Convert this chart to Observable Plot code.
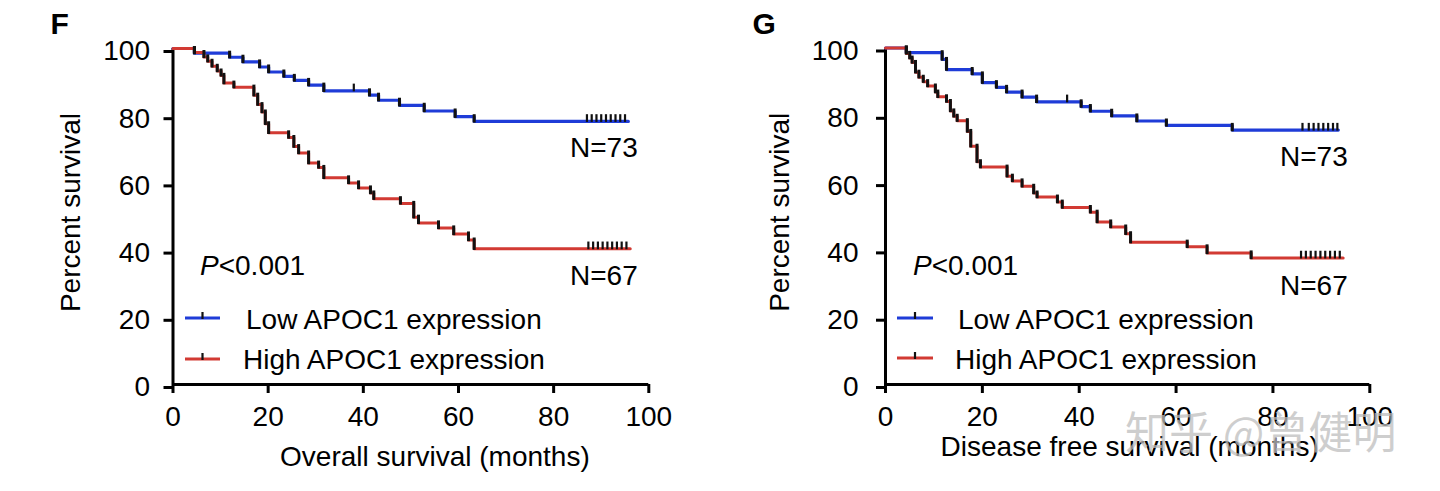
<!DOCTYPE html>
<html>
<head>
<meta charset="utf-8">
<script src="https://cdn.jsdelivr.net/npm/d3@7"></script>
<script src="https://cdn.jsdelivr.net/npm/@observablehq/plot@0.6"></script>
<style>
  html, body { margin: 0; padding: 0; background: #fff; }
  #wrap { position: relative; width: 1440px; height: 491px; overflow: hidden; }
  .panel { position: absolute; top: 0; }
  .mark { position: absolute; font-family: "Noto Sans CJK SC", sans-serif; font-size: 44px;
          color: rgba(190,190,190,0.75); white-space: nowrap; pointer-events: none; }
</style>
</head>
<body>
<div id="wrap"></div>
<script>
// ---- Overall survival (panel F) ----
const osLowTime  = [0, 4.5, 11.9, 14.7, 18.2, 20.1, 23.3, 25.5, 28.5, 31.7, 41.3, 43.2, 47.6, 52.8, 59.3, 63.3];
const osLowSurv  = [100, 98.6, 97.4, 96.0, 94.5, 93.0, 91.7, 90.5, 89.1, 87.4, 86.1, 84.6, 83.1, 81.4, 79.7, 78.3];
const osLowCens  = [38.0, 87.0, 88.0, 89.0, 90.0, 91.0, 92.0, 93.0, 94.0, 95.0];
const osLowEnd   = 95.7;

const osHighTime = [0, 4.5, 6.5, 7.3, 8.2, 9.3, 10.1, 10.7, 12.8, 17.0, 17.8, 18.7, 19.4, 20.1, 24.3, 25.4, 26.4, 28.5, 30.6, 31.7, 36.9, 39.0, 41.5, 42.2, 47.8, 50.6, 51.6, 55.8, 59.0, 62.1, 63.3];
const osHighSurv = [100, 98.8, 97.5, 96.2, 94.7, 93.3, 92.0, 89.7, 88.5, 86.1, 83.3, 81.1, 77.6, 74.9, 73.5, 70.8, 68.9, 65.9, 64.6, 61.5, 60.0, 58.5, 57.0, 55.3, 53.9, 49.8, 48.1, 46.6, 44.8, 43.0, 40.4];
const osHighCens = [87.3, 88.3, 89.3, 90.3, 91.3, 92.3, 93.3, 94.3, 95.3];
const osHighEnd  = 96.1;

// ---- Disease free survival (panel G) ----
const dfsLowTime  = [0, 4.3, 11.7, 12.6, 17.9, 20.0, 22.9, 25.0, 28.2, 31.2, 40.4, 42.3, 46.7, 51.9, 58.0, 71.6];
const dfsLowSurv  = [100, 98.6, 96.6, 93.6, 92.3, 89.7, 88.3, 86.9, 85.4, 84.0, 82.6, 81.2, 79.8, 78.3, 77.0, 75.6];
const dfsLowCens  = [37.5, 86.1, 87.4, 88.4, 89.4, 90.4, 91.4, 92.4, 93.3];
const dfsLowEnd   = 93.5;

const dfsHighTime = [0, 4.3, 5.0, 5.5, 6.2, 6.9, 7.8, 8.7, 10.3, 10.8, 12.6, 13.4, 14.1, 14.8, 16.9, 17.6, 18.9, 19.6, 25.1, 26.2, 28.2, 30.6, 31.3, 35.5, 36.5, 42.3, 43.7, 46.5, 49.6, 50.6, 62.3, 66.4, 75.5];
const dfsHighSurv = [100, 98.4, 97.0, 95.7, 92.8, 91.3, 90.0, 88.7, 86.9, 85.5, 84.1, 81.3, 79.7, 78.4, 75.2, 70.8, 66.2, 64.6, 61.9, 60.5, 58.9, 56.9, 55.7, 54.2, 52.6, 51.2, 48.3, 46.8, 44.8, 42.3, 40.9, 39.1, 37.6];
const dfsHighCens = [85.8, 86.8, 87.8, 88.8, 89.8, 90.8, 91.8, 92.8, 93.8];
const dfsHighEnd  = 94.5;

// ---- shared labels ----
const xTicks = [0, 20, 40, 60, 80, 100];
const yTicks = [0, 20, 40, 60, 80, 100];
const groupLabels = ["Low APOC1 expression", "High APOC1 expression"];
const groupN = [73, 67];
const pText = "<0.001";

const BLUE = "#1f3cd8";
const RED = "#d23a33";
const FONT = "'Liberation Sans', Arial, Helvetica, sans-serif";

// survival value in effect at time t for a step series
function survAt(T, S, t) {
  let s = S[0];
  for (let i = 0; i < T.length; i++) if (T[i] <= t) s = S[i];
  return s;
}

function kmPanel(cfg) {
  const lowPts = cfg.lowT.map((t, i) => ({t, s: cfg.lowS[i]}))
    .concat([{t: cfg.lowEnd, s: cfg.lowS[cfg.lowS.length - 1]}]);
  const highPts = cfg.highT.map((t, i) => ({t, s: cfg.highS[i]}))
    .concat([{t: cfg.highEnd, s: cfg.highS[cfg.highS.length - 1]}]);
  // black drop segments at each event
  const drops = (T, S) => T.slice(1).map((t, i) => ({t, s1: S[i] + 0.6, s2: S[i + 1] - 0.5}));
  const cens = (C, T, S) => C.map(c => ({t: c, s: survAt(T, S, c)}));
  const dropRows = drops(cfg.lowT, cfg.lowS).concat(drops(cfg.highT, cfg.highS));
  const censRows = cens(cfg.lowC, cfg.lowT, cfg.lowS).concat(cens(cfg.highC, cfg.highT, cfg.highS));

  const m = cfg.margins;
  const svg = Plot.plot({
    width: 720,
    height: 491,
    marginLeft: m.left, marginRight: m.right, marginTop: m.top, marginBottom: m.bottom,
    style: {fontFamily: FONT, fontSize: "28px", color: "#000", background: "transparent", overflow: "visible"},
    x: {domain: [0, 100]},
    y: {domain: [0, 100]},
    marks: [
      Plot.axisX({ticks: xTicks, tickSize: 9, tickPadding: 13, strokeWidth: 3, fontSize: 28, label: null, fill: "#000"}),
      Plot.axisY({ticks: yTicks, tickSize: 9, tickPadding: cfg.yPad, strokeWidth: 3, fontSize: 28, label: null, dy: 3, fill: "#000"}),
      Plot.ruleX([0], {strokeWidth: 3, stroke: "#000"}),
      Plot.ruleY([0], {strokeWidth: 3, stroke: "#000"}),
      Plot.line(lowPts, {x: "t", y: "s", curve: "step-after", stroke: BLUE, strokeWidth: 3.2}),
      Plot.line(highPts, {x: "t", y: "s", curve: "step-after", stroke: RED, strokeWidth: 3}),
      Plot.ruleX(dropRows, {x: "t", y1: "s1", y2: "s2", stroke: "#111", strokeWidth: 3}),
      Plot.ruleX(censRows, {x: "t", y1: d => d.s - 0.3, y2: d => d.s + 2, stroke: "#111", strokeWidth: 2.2}),
      Plot.text([cfg.xLabel], {text: d => d, frameAnchor: "bottom", textAnchor: "middle", lineAnchor: "middle", dx: cfg.xLabelDx, dy: cfg.xLabelDy, fontSize: 28, fill: "#000"}),
      Plot.text(["Percent survival"], {text: d => d, frameAnchor: "left", textAnchor: "middle", rotate: -90, lineAnchor: "middle", dx: cfg.yLabelDx, dy: -4, fontSize: 28, fill: "#000"}),
      Plot.text([cfg.letter], {text: d => d, frameAnchor: "top-left", textAnchor: "start", lineAnchor: "middle", dx: cfg.letterDx, dy: cfg.letterDy, fontSize: 30, fontWeight: "bold", fill: "#000"})
    ]
  });

  // legend, p-value and group sizes drawn in plot pixel space
  const g = d3.select(svg).append("g")
    .attr("font-family", FONT).attr("font-size", 28).attr("fill", "#000").attr("text-anchor", "start");
  const L = cfg.legend;
  [[BLUE, L.y1, L.tx1, L.ty1], [RED, L.y2, L.tx2, L.ty2]].forEach(([c, y, tx, ty], i) => {
    g.append("line").attr("x1", L.x1).attr("x2", L.x2).attr("y1", y).attr("y2", y)
      .attr("stroke", c).attr("stroke-width", 3);
    g.append("line").attr("x1", (L.x1 + L.x2) / 2).attr("x2", (L.x1 + L.x2) / 2)
      .attr("y1", y - 6).attr("y2", y + 1).attr("stroke", "#111").attr("stroke-width", 2.2);
    g.append("text").attr("x", tx).attr("y", ty).text(groupLabels[i]);
  });
  const p = g.append("text").attr("x", cfg.pPos[0]).attr("y", cfg.pPos[1]);
  p.append("tspan").attr("font-style", "italic").text("P");
  p.append("tspan").text(pText);
  g.append("text").attr("x", cfg.nPos[0]).attr("y", cfg.nPos[1]).text("N=" + groupN[0]);
  g.append("text").attr("x", cfg.nPos[0]).attr("y", cfg.nPos[2]).text("N=" + groupN[1]);
  return svg;
}

const wrap = document.getElementById("wrap");

const panelF = kmPanel({
  letter: "F",
  lowT: osLowTime, lowS: osLowSurv, lowC: osLowCens, lowEnd: osLowEnd,
  highT: osHighTime, highS: osHighSurv, highC: osHighCens, highEnd: osHighEnd,
  margins: {left: 172.5, right: 71.7, top: 48, bottom: 107},
  yPad: 14,
  xLabel: "Overall survival (months)", xLabelDx: 24, xLabelDy: 73,
  yLabelDx: -102, letterDx: -122.5, letterDy: -24,
  legend: {x1: 185, x2: 220, y1: 318, y2: 359, tx1: 246, ty1: 329, tx2: 243, ty2: 369},
  pPos: [200, 275],
  nPos: [570, 157, 285]
});
panelF.classList.add("panel");
panelF.style.left = "0px";
wrap.appendChild(panelF);

const panelG = kmPanel({
  letter: "G",
  lowT: dfsLowTime, lowS: dfsLowSurv, lowC: dfsLowCens, lowEnd: dfsLowEnd,
  highT: dfsHighTime, highS: dfsHighSurv, highC: dfsHighCens, highEnd: dfsHighEnd,
  margins: {left: 165, right: 70.7, top: 47.5, bottom: 107},
  yPad: 18,
  xLabel: "Disease free survival (months)", xLabelDx: 2, xLabelDy: 62.5,
  yLabelDx: -105, letterDx: -133, letterDy: -24,
  legend: {x1: 177, x2: 213, y1: 318, y2: 358, tx1: 238, ty1: 329, tx2: 235, ty2: 369},
  pPos: [193, 275],
  nPos: [560, 166, 295]
});
panelG.classList.add("panel");
panelG.style.left = "720px";
wrap.appendChild(panelG);

// site watermark
const wm = document.createElement("div");
wm.className = "mark";
wm.textContent = "知乎 @曾健明";
wm.style.left = "1125px";
wm.style.top = "398px";
wrap.appendChild(wm);
</script>
</body>
</html>
